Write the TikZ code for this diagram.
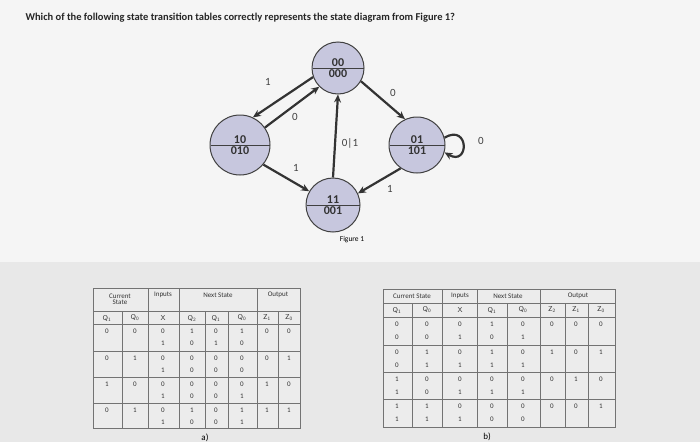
\documentclass[tikz,border=0pt]{standalone}
\usepackage{fontspec}
\setmainfont{Carlito}
\usetikzlibrary{shapes.multipart,arrows.meta}
\begin{document}
\begin{tikzpicture}[x=1pt,y=-1pt,
  st/.style={circle split,draw=black!75,line width=1pt,fill=blue!25!gray!35,inner sep=1pt,font=\bfseries\fontsize{12}{13}\selectfont,text=black!80},
  arr/.style={-{Stealth[length=8pt,width=7pt]},line width=2.2pt,draw=black!80},
  lbl/.style={font=\fontsize{11}{12}\selectfont,text=black!75},
  tab/.style={font=\fontsize{7}{8}\selectfont,text=black!80},
  grid/.style={draw=black!55,line width=0.6pt}]
\useasboundingbox (0,0) rectangle (700,442);
\fill[gray!8] (0,0) rectangle (700,442);
\fill[gray!18] (0,262) rectangle (700,442);
\node[anchor=west,font=\bfseries\fontsize{10.5}{12}\selectfont,text=black!85] (q) at (22,18) {Which of the following state transition tables correctly represents the state diagram from Figure 1?};
% diagram
\node[st,minimum size=52pt] (A) at (338,68) {00\nodepart{lower}000};
\node[st,minimum size=60pt] (L) at (240,145) {10\nodepart{lower}010};
\node[st,minimum size=56pt] (R) at (417,145) {01\nodepart{lower}101};
\node[st,minimum size=54pt] (B) at (333,205) {11\nodepart{lower}001};
\draw[arr] (A.200) -- (L.65);
\draw[arr] (L.35) -- (A.225);
\draw[arr] (A.330) -- (R.115);
\draw[arr] (B.north) -- (A.south);
\draw[arr] (L.320) -- (B.150);
\draw[arr] (R.235) -- (B.25);
\draw[arr] (R.15) to[out=30,in=-30,looseness=5] (R.-15);
\node[lbl] (l1) at (268,82) {1};
\node[lbl] (l2) at (295,117) {0};
\node[lbl] (l3) at (393,93) {0};
\node[lbl] (l4) at (350,143) {0|1};
\node[lbl] (l5) at (296,168) {1};
\node[lbl] (l6) at (390,189) {1};
\node[lbl] (l7) at (481,141) {0};
\node[font=\fontsize{7.5}{8}\selectfont] (fig) at (352,240) {Figure 1};
% table a
\fill[white!85!gray] (93,288) rectangle (300,428);
\draw[grid] (93,288) rectangle (300,428);
\foreach \y in {311,324,351,377,403} \draw[grid] (93,\y) -- (300,\y);
\foreach \x in {148,179,257} \draw[grid] (\x,288) -- (\x,428);
\foreach \x in {122,205,228,278} \draw[grid] (\x,311) -- (\x,428);
\node[tab,align=center] (ah1) at (120,299) {Current\\[-2pt]State};
\node[tab] (ah2) at (163,295) {Inputs};
\node[tab] (ah3) at (218,295) {Next State};
\node[tab] (ah4) at (278,295) {Output};
\foreach \x/\t in {107/Q_1,135/Q_0,163/X,192/Q_2,216/Q_1,242/Q_0,267/Z_1,289/Z_0}
  \node[tab] at (\x,318) {$\mathsf{\t}$};
\foreach \y/\qa/\qb/\pa/\pb/\pc/\ra/\rb/\rc/\za/\zb in {
  324/0/0/1/0/1/0/1/0/0/0, 351/0/1/0/0/0/0/0/0/0/1,
  377/1/0/0/0/0/0/0/1/1/0, 403/0/1/1/0/1/0/0/1/1/1}{
  \node[tab] at (107,\y+7) {\qa}; \node[tab] at (135,\y+7) {\qb};
  \node[tab] at (163,\y+7) {0}; \node[tab] at (163,\y+19) {1};
  \node[tab] at (192,\y+7) {\pa}; \node[tab] at (216,\y+7) {\pb}; \node[tab] at (242,\y+7) {\pc};
  \node[tab] at (192,\y+19) {\ra}; \node[tab] at (216,\y+19) {\rb}; \node[tab] at (242,\y+19) {\rc};
  \node[tab] at (267,\y+7) {\za}; \node[tab] at (289,\y+7) {\zb};
}
\node[font=\fontsize{9}{10}\selectfont] (la) at (205,438) {a)};
% table b
\fill[white!85!gray] (383,289) rectangle (615,427);
\draw[grid] (383,289) rectangle (615,427);
\foreach \y in {303,317,345,372,399} \draw[grid] (383,\y) -- (615,\y);
\foreach \x in {442,477,540} \draw[grid] (\x,289) -- (\x,427);
\foreach \x in {412,507,565,588} \draw[grid] (\x,303) -- (\x,427);
\node[tab] (bh1) at (412,296) {Current State};
\node[tab] (bh2) at (460,296) {Inputs};
\node[tab] (bh3) at (508,296) {Next State};
\node[tab] (bh4) at (578,296) {Output};
\foreach \x/\t in {397/Q_1,427/Q_0,460/X,492/Q_1,523/Q_0,552/Z_2,576/Z_1,601/Z_0}
  \node[tab] at (\x,310) {$\mathsf{\t}$};
\foreach \y/\qa/\qb/\pa/\pb/\ra/\rb/\za/\zb/\zc in {
  317/0/0/1/0/0/1/0/0/0, 345/0/1/1/0/1/1/1/0/1,
  372/1/0/0/0/1/1/0/1/0, 399/1/1/0/0/0/0/0/0/1}{
  \node[tab] at (397,\y+7) {\qa}; \node[tab] at (427,\y+7) {\qb};
  \node[tab] at (397,\y+20) {\qa}; \node[tab] at (427,\y+20) {\qb};
  \node[tab] at (460,\y+7) {0}; \node[tab] at (460,\y+20) {1};
  \node[tab] at (492,\y+7) {\pa}; \node[tab] at (523,\y+7) {\pb};
  \node[tab] at (492,\y+20) {\ra}; \node[tab] at (523,\y+20) {\rb};
  \node[tab] at (552,\y+7) {\za}; \node[tab] at (576,\y+7) {\zb}; \node[tab] at (601,\y+7) {\zc};
}
\node[font=\fontsize{9}{10}\selectfont] (lb) at (487,437) {b)};
\end{tikzpicture}
\end{document}
